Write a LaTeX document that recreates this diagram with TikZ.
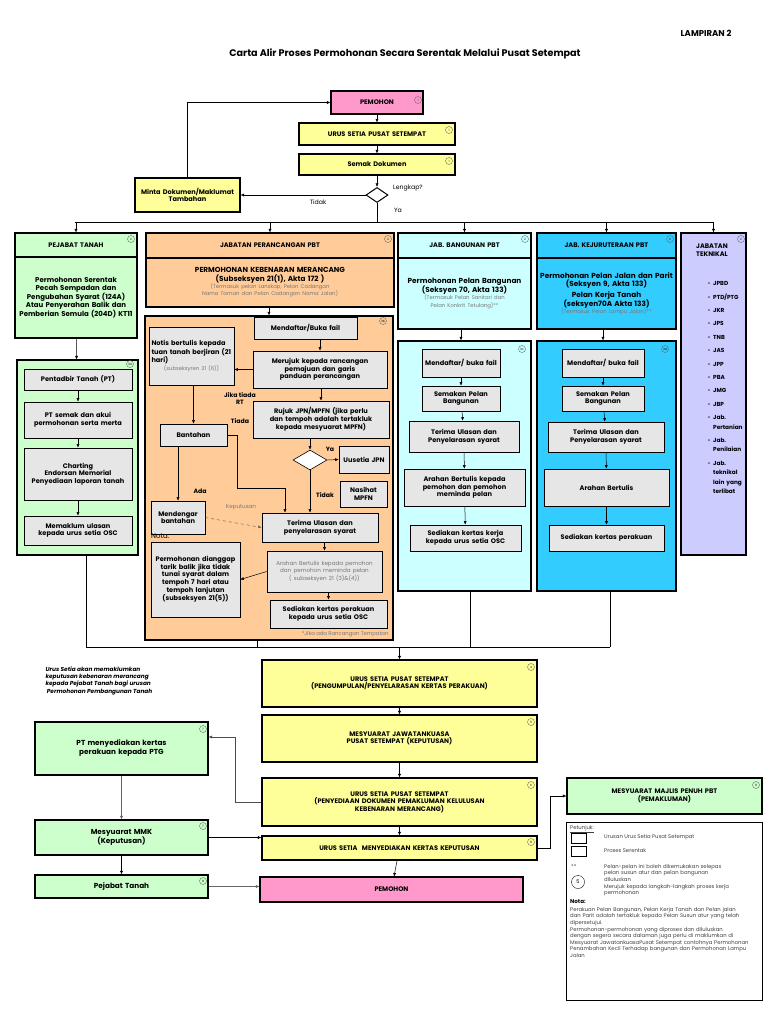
\documentclass[tikz,border=0pt]{standalone}
\usepackage{fontspec}
\setmainfont{Poppins}
\usetikzlibrary{arrows.meta,shapes.geometric}
\definecolor{pinkc}{HTML}{FF99CC}
\definecolor{yelc}{HTML}{FFFF99}
\definecolor{greenc}{HTML}{CCFFCC}
\definecolor{orangec}{HTML}{FFCC99}
\definecolor{cyanl}{HTML}{CCFFFF}
\definecolor{cyand}{HTML}{33CCFF}
\definecolor{lavc}{HTML}{CCCCFF}
\definecolor{greyc}{HTML}{E6E6E6}
\definecolor{notec}{HTML}{777777}

% box from (x1,y1) to (x2,y2), in pixels
\newcommand{\boxat}[7]{%
\pgfmathsetmacro\bw{#5-#3}\pgfmathsetmacro\bh{#6-#4}%
\pgfmathsetmacro\tw{#5-#3-5}%
\pgfmathsetmacro\cx{(#3+#5)/2}\pgfmathsetmacro\cy{(#4+#6)/2}%
\node[#2,minimum width=\bw pt,minimum height=\bh pt,text width=\tw pt] (#1) at (\cx,\cy) {#7};}
\newcommand{\stepno}[3]{\node[stepc] at (#1,#2) {#3};}

\begin{document}
\hyphenpenalty=10000 \exhyphenpenalty=10000
\begin{tikzpicture}[x=1pt,y=-1pt,font=\fontsize{6.6}{7.6}\selectfont,
  base/.style={draw,inner sep=1pt,align=center,line width=1.1pt},
  pem/.style={base,fill=pinkc},
  yel/.style={base,fill=yelc},
  grn/.style={base,fill=greenc},
  org/.style={base,fill=orangec},
  cyl/.style={base,fill=cyanl},
  cyd/.style={base,fill=cyand},
  lav/.style={base,fill=lavc},
  gry/.style={draw,fill=greyc,inner sep=1pt,align=center,line width=0.6pt},
  stepc/.style={draw=black!60,circle,inner sep=0pt,minimum size=7pt,font=\fontsize{3}{3}\selectfont},
  arr/.style={-{Latex[length=3.5pt,width=3pt]},line width=0.5pt},
  ln/.style={line width=0.5pt},
  lbl/.style={font=\fontsize{6.2}{7}\selectfont,inner sep=1pt},
  leg/.style={anchor=north west,inner sep=0pt,align=left,text=black!75,font=\fontsize{5.3}{6.6}\selectfont}]
\useasboundingbox (0,0) rectangle (768,1024);

% titles
\node[anchor=east,font=\fontsize{8.5}{9}\selectfont\bfseries] (lamp) at (735,33) {LAMPIRAN 2};
\node[font=\fontsize{9.6}{10}\selectfont\bfseries] (title) at (405,54) {Carta Alir Proses Permohonan Secara Serentak Melalui Pusat Setempat};

% top part
\boxat{pem1}{pem}{331}{91}{423}{114}{\textbf{PEMOHON}}
\boxat{usps}{yel}{299}{123}{455}{145}{\textbf{URUS SETIA PUSAT SETEMPAT}}
\boxat{semak}{yel}{299}{154}{455}{175}{\textbf{Semak Dokumen}}
\node[diamond,draw,line width=1pt,fill=white,minimum width=22pt,minimum height=15pt,inner sep=0pt] (lengkap) at (377,195) {};
\boxat{minta}{yel}{135}{178}{240}{212}{\textbf{Minta Dokumen/Maklumat Tambahan}}
\stepno{418}{100}{1}\stepno{449}{130}{1}\stepno{449}{161}{1}
\node[lbl,anchor=west] (lengkapq) at (392,188) {Lengkap?};
\node[lbl] (tidak1) at (318,202) {Tidak};
\node[lbl] (ya1) at (398,210) {Ya};
\draw[arr] (pem1) -- (usps);
\draw[arr] (usps) -- (semak);
\draw[arr] (semak) -- (lengkap);
\draw[arr] (lengkap.west) -- (minta.east);
\draw[arr] (minta.north) |- (pem1.west);
\coordinate (busL) at (75,222);
\coordinate (busR) at (713,222);
\draw[ln] (busL) -- (busR);
\draw[ln] (lengkap.south) -- (lengkap.south |- busL);

% headers
\boxat{ptH}{grn}{15}{233}{137}{257}{\textbf{PEJABAT TANAH}}
\boxat{ptB}{grn}{15}{257}{137}{338}{\fontsize{7}{8.8}\selectfont\textbf{Permohonan Serentak Pecah Sempadan dan Pengubahan Syarat (124A)\\ Atau Penyerahan Balik dan Pemberian Semula (204D) KT11}}
\boxat{jpH}{org}{146}{233}{394}{258}{\textbf{JABATAN PERANCANGAN PBT}}
\boxat{jpB}{org}{146}{258}{394}{307}{\fontsize{7.3}{9}\selectfont\textbf{PERMOHONAN KEBENARAN MERANCANG\\ (Subseksyen 21(1), Akta 172 )}\\[-1pt]{\fontsize{5.3}{6.5}\selectfont\color{notec}(Termasuk pelan Lanskap, Pelan Cadangan Nama Taman dan Pelan Cadangan Nama Jalan)}}
\boxat{jbH}{cyl}{398}{233}{531}{258}{\textbf{JAB. BANGUNAN PBT}}
\boxat{jbB}{cyl}{398}{258}{531}{329}{\fontsize{7.3}{9}\selectfont\textbf{Permohonan Pelan Bangunan\\ (Seksyen 70, Akta 133)}\\[-1pt]{\fontsize{5.3}{6.5}\selectfont\color{notec}(Termasuk Pelan Sanitari dan Pelan Konkrit Tetulang)**}}
\boxat{jkH}{cyd}{537}{233}{676}{258}{\textbf{JAB. KEJURUTERAAN PBT}}
\boxat{jkB}{cyd}{537}{258}{676}{329}{\fontsize{7.3}{8.6}\selectfont\textbf{Permohonan Pelan Jalan dan Parit\\ (Seksyen 9, Akta 133)\\[2pt] Pelan Kerja Tanah\\ (seksyen70A Akta 133)}\\[-1pt]{\fontsize{5.3}{6.5}\selectfont\color{notec}(Termasuk Pelan Lampu Jalan)**}}
\boxat{tek}{lav}{681}{233}{746}{555}{}
\node[anchor=north,align=center,font=\fontsize{6.6}{8.5}\selectfont\bfseries] (tekH) at (712,240) {JABATAN\\ TEKNIKAL};
\node[anchor=north west,inner sep=0pt,text width=54pt,font=\fontsize{5.8}{9.4}\selectfont\bfseries] (tekL) at (688,268) {%
\begin{itemize}\setlength{\itemsep}{0pt}\setlength{\parsep}{0pt}\setlength{\topsep}{0pt}\setlength{\leftmargin}{7pt}\setlength{\labelsep}{3pt}\setlength{\labelwidth}{4pt}\raggedright
\item JPBD \item PTD/PTG \item JKR \item JPS \item TNB \item JAS \item JPP \item PBA \item JMG \item JBP
\item Jab. Pertanian \item Jab. Penilaian \item Jab. teknikal lain yang terlibat
\end{itemize}};
\stepno{131}{239}{2}\stepno{388}{239}{2}\stepno{525}{239}{2}\stepno{670}{239}{2}\stepno{741}{239}{2}
\foreach \h in {ptH,jpH,jbH,jkH}
  \draw[arr] (\h.north |- busL) -- (\h.north);
\draw[arr] (tek.north |- busL) -- (tek.north);

% pejabat tanah process
\boxat{ptC}{grn}{17}{360}{138}{555}{}
\boxat{ptA}{gry}{24}{369}{132}{390}{\textbf{Pentadbir Tanah (PT)}}
\boxat{ptS}{gry}{24}{402}{132}{438}{\textbf{PT semak dan akui permohonan serta merta}}
\boxat{ptCh}{gry}{24}{448}{132}{500}{\textbf{Charting\\ Endorsan Memorial Penyediaan laporan tanah}}
\boxat{ptM}{gry}{24}{516}{132}{545}{\textbf{Memaklum ulasan kepada urus setia OSC}}
\stepno{130}{364}{3a}
\draw[arr] (ptB) -- (ptC);
\draw[arr] (ptA) -- (ptS);
\draw[arr] (ptS) -- (ptCh);
\draw[arr] (ptCh) -- (ptM);

% perancangan process
\boxat{jpC}{org}{145}{316}{393}{640}{}
\boxat{jpDaftar}{gry}{254}{317}{357}{339}{\textbf{Mendaftar/Buka fail}}
\boxat{jpNotis}{gry}{149}{327}{234}{385}{\raggedright\textbf{Notis bertulis kepada tuan tanah berjiran (21 hari)}\\{\color{notec}\fontsize{5.3}{6.5}\selectfont(subseksyren 21 (6))}}
\boxat{jpRujuk}{gry}{253}{351}{387}{388}{\raggedright\textbf{Merujuk kepada rancangan pemajuan dan garis panduan perancangan}}
\boxat{jpJPN}{gry}{253}{401}{389}{438}{\textbf{Rujuk JPN/MPFN (jika perlu dan tempoh adalah tertakluk kepada mesyuarat MPFN)}}
\boxat{jpBantah}{gry}{160}{424}{227}{446}{\textbf{Bantahan}}
\node[diamond,draw,line width=0.6pt,fill=white,minimum width=34pt,minimum height=20pt,inner sep=0pt] (jpDia) at (310,460) {};
\boxat{jpUus}{gry}{339}{446}{389}{473}{\raggedright\textbf{Uusetia JPN}}
\boxat{jpMPFN}{gry}{340}{481}{387}{507}{\raggedright\textbf{Nasihat MPFN}}
\boxat{jpDengar}{gry}{151}{501}{205}{534}{\textbf{Mendengar bantahan}}
\boxat{jpTerima}{gry}{262}{513}{378}{542}{\textbf{Terima Ulasan dan penyelarasan syarat}}
\boxat{jpTarik}{gry}{151}{542}{240}{617}{\raggedright\textbf{Permohonan dianggap tarik balik jika tidak tunai syarat dalam tempoh 7 hari atau tempoh lanjutan (subseksyen 21(5))}}
\boxat{jpArahan}{gry}{267}{551}{382}{592}{\color{notec}\fontsize{5.6}{6.6}\selectfont Arahan Bertulis kepada pemohon dan pemohon meminda pelan\\ ( subseksyen 21 (3)\&(4))}
\boxat{jpSedia}{gry}{270}{600}{387}{628}{\textbf{Sediakan kertas perakuan kepada urus setia OSC}}
\node[lbl,anchor=west] (nota1) at (150,536) {\fontsize{7}{7}\selectfont Nota:};
\node[anchor=east,text=notec,font=\fontsize{5.3}{5.5}\selectfont] (jikaRT) at (392,634) {*Jika ada Rancangan Tempatan};
\stepno{383}{321}{3b}
\draw[arr] (jpB.south -| jpC.north) -- (jpC.north);
\draw[arr] (jpDaftar.south -| jpRujuk.north) -- (jpRujuk.north);
\draw[arr] (jpRujuk.west) -- (jpRujuk.west -| jpNotis.east);
\draw[arr] (jpRujuk.south -| jpJPN.north) -- (jpJPN.north);
\draw[arr] (jpBantah.north |- jpNotis.south) -- (jpBantah.north);
\draw[arr] (jpDia.north |- jpJPN.south) -- (jpDia.north);
\draw[arr] (jpDia.east) -- (jpUus.west);
\draw[arr] (jpDia.south) -- (jpDia.south |- jpTerima.north);
\draw[arr] (jpBantah.east) -| (237,488) -| ([xshift=-35pt]jpTerima.north);
\draw[arr] (jpBantah.south -| jpDengar.north) -- (jpDengar.north);
\draw[arr,dashed,draw=black!60] (jpDengar.east) -- (jpTerima.west);
\draw[arr] (jpTerima.south -| jpArahan.north) -- (jpArahan.north);
\draw[arr] (jpArahan.west) -- (jpTarik.east);
\draw[arr] (jpArahan.south -| jpSedia.north) -- (jpSedia.north);
\node[lbl,font=\fontsize{6.2}{7}\selectfont\bfseries,align=center] (jikaT) at (240,399) {Jika tiada\\ RT};
\node[lbl,font=\fontsize{6.2}{7}\selectfont\bfseries] (tiada) at (240,421) {Tiada};
\node[lbl,font=\fontsize{6.2}{7}\selectfont\bfseries] (ya2) at (330,449) {Ya};
\node[lbl,font=\fontsize{6.2}{7}\selectfont\bfseries] (tidak2) at (325,495) {Tidak};
\node[lbl,font=\fontsize{6.2}{7}\selectfont\bfseries] (ada) at (200,491) {Ada};
\node[lbl,text=notec,font=\fontsize{5.6}{6}\selectfont] (keput) at (241,507) {Keputusan};

% bangunan process
\boxat{jbC}{cyl}{398}{341}{531}{591}{}
\boxat{jbDaftar}{gry}{422}{349}{500}{377}{\textbf{Mendaftar/ buka fail}}
\boxat{jbSemak}{gry}{422}{386}{500}{411}{\textbf{Semakan Pelan Bangunan}}
\boxat{jbTerima}{gry}{409}{421}{519}{452}{\textbf{Terima Ulasan dan Penyelarasan syarat}}
\boxat{jbArahan}{gry}{404}{469}{525}{506}{\textbf{Arahan Bertulis kepada pemohon dan pemohon meminda pelan}}
\boxat{jbSedia}{gry}{410}{525}{521}{551}{\textbf{Sediakan kertas kerja kepada urus setia OSC}}
\stepno{522}{349}{3c}
\draw[arr] (jbB.south -| jbDaftar.north) -- (jbC.north -| jbDaftar.north);
\draw[arr] (jbDaftar) -- (jbSemak);
\draw[arr] (jbSemak) -- (jbTerima);
\draw[arr] (jbTerima) -- (jbArahan);
\draw[arr] (jbArahan) -- (jbSedia);

% kejuruteraan process
\boxat{jkC}{cyd}{537}{341}{676}{591}{}
\boxat{jkDaftar}{gry}{562}{349}{644}{377}{\textbf{Mendaftar/ buka fail}}
\boxat{jkSemak}{gry}{562}{386}{644}{411}{\textbf{Semakan Pelan Bangunan}}
\boxat{jkTerima}{gry}{548}{422}{664}{452}{\textbf{Terima Ulasan dan Penyelarasan syarat}}
\boxat{jkArahan}{gry}{544}{469}{669}{506}{\textbf{Arahan Bertulis}\\[12pt]}
\boxat{jkSedia}{gry}{549}{525}{664}{551}{\textbf{Sediakan kertas perakuan}}
\stepno{665}{349}{3d}
\draw[arr] (jkB.south -| jkDaftar.north) -- (jkC.north -| jkDaftar.north);
\draw[arr] (jkDaftar) -- (jkSemak);
\draw[arr] (jkSemak) -- (jkTerima);
\draw[arr] (jkTerima) -- (jkArahan);
\draw[arr] (jkArahan) -- (jkSedia);

% collecting line
\coordinate (bus2) at (86,647);
\draw[ln] (ptC.south -| bus2) -- (bus2) -- (610,647);
\draw[ln] (257,640) -- (257,647);
\draw[ln] (470,591) -- (470,647);
\draw[ln] (610,591) -- (610,647);

% lower part
\boxat{usps4}{yel}{262}{660}{537}{707}{\textbf{URUS SETIA PUSAT SETEMPAT\\ (PENGUMPULAN/PENYELARASAN KERTAS PERAKUAN)}\\[10pt]}
\boxat{mjk}{yel}{262}{715}{537}{762}{\textbf{MESYUARAT JAWATANKUASA\\ PUSAT SETEMPAT (KEPUTUSAN)}\\[10pt]}
\boxat{usps6}{yel}{262}{778}{537}{826}{\textbf{URUS SETIA PUSAT SETEMPAT\\ (PENYEDIAAN DOKUMEN PEMAKLUMAN KELULUSAN\\ KEBENARAN MERANCANG)}}
\boxat{uskk}{yel}{262}{836}{537}{860}{\textbf{URUS SETIA\ \ MENYEDIAKAN KERTAS KEPUTUSAN}}
\boxat{pem2}{pem}{260}{877}{523}{902}{\textbf{PEMOHON}\\[3pt]}
\boxat{ptPTG}{grn}{35}{722}{208}{775}{\fontsize{7.3}{9}\selectfont\textbf{PT menyediakan kertas perakuan kepada PTG}\\[6pt]}
\boxat{mmk}{grn}{35}{820}{208}{855}{\fontsize{7.3}{9}\selectfont\textbf{Mesyuarat MMK\\ (Keputusan)}}
\boxat{ptLast}{grn}{35}{875}{208}{898}{\fontsize{7.3}{9}\selectfont\textbf{Pejabat Tanah}\\[3pt]}
\boxat{majlis}{grn}{567}{778}{762}{814}{\textbf{MESYUARAT MAJLIS PENUH PBT\\ (PEMAKLUMAN)}\\[4pt]}
\stepno{531}{667}{4}\stepno{531}{722}{5}\stepno{531}{785}{6}\stepno{531}{842}{8}
\stepno{203}{729}{7}\stepno{203}{826}{7}\stepno{203}{881}{8}\stepno{756}{785}{9}
\node[anchor=north west,align=left,font=\fontsize{5.8}{7.3}\selectfont\itshape\bfseries] (urusNote) at (42,663) {Urus Setia akan memaklumkan\\ keputusan kebenaran merancang\\ kepada Pejabat Tanah bagi urusan\\ \ Permohonan Pembangunan Tanah};
\draw[arr] (usps4.north |- bus2) -- (usps4.north);
\draw[arr] (usps4) -- (mjk);
\draw[arr] (mjk) -- (usps6);
\draw[arr] (usps6) -- (uskk);
\draw[arr] (uskk) -- (pem2);
\draw[arr,draw=black!70] (usps6.west) -| (235,737) -- (ptPTG.east |- 0,737);
\draw[arr,draw=black!60] (ptPTG) -- (mmk);
\draw[arr] (mmk.east) -- (mmk.east -| uskk.west);
\draw[arr] (mmk) -- (ptLast);
\draw[arr,draw=black!60] (ptLast.east) -- (ptLast.east -| pem2.west);
\draw[arr] (uskk.east) -| (550,796) -- (majlis.west |- 0,796);

% legend
\node[draw,line width=0.6pt,minimum width=196pt,minimum height=178pt,inner sep=0pt] (legend) at (664,911) {};
\node[leg] (legHead) at (570,825) {\underline{Petunjuk:}};
\draw[line width=0.6pt] (571,833) rectangle (586,843);
\draw[line width=0.6pt] (571,846) rectangle (586,856);
\node[leg] (legA) at (604,834) {Urusan Urus Setia Pusat Setempat};
\node[leg] (legB) at (604,848) {Proses Serentak};
\node[leg] (legStar) at (571,864) {**};
\node[leg,text width=130pt] (legC) at (604,864) {Pelan-pelan ini boleh dikemukakan selepas pelan susun atur dan pelan bangunan diluluskan\\ Merujuk kepada langkah-langkah proses kerja permohonan};
\node[draw,circle,inner sep=0pt,minimum size=13pt,font=\fontsize{5}{5}\selectfont] (legCirc) at (578,882) {5};
\node[leg,text=black,font=\fontsize{5.6}{6.6}\selectfont\bfseries] (legNota) at (570,899) {Nota:};
\node[leg,text width=186pt] (legD) at (570,907) {Perakuan Pelan Bangunan, Pelan Kerja Tanah dan Pelan jalan dan Parit adalah tertakluk kepada Pelan Susun atur yang telah dipersetujui.\\ Permohonan-permohonan yang diproses dan diluluskan dengan segera secara dalaman juga perlu di maklumkan di Mesyuarat JawatankuasaPusat Setempat contohnya Permohonan Penambahan Kecil Terhadap bangunan dan Permohonan Lampu Jalan};
\end{tikzpicture}
\end{document}
